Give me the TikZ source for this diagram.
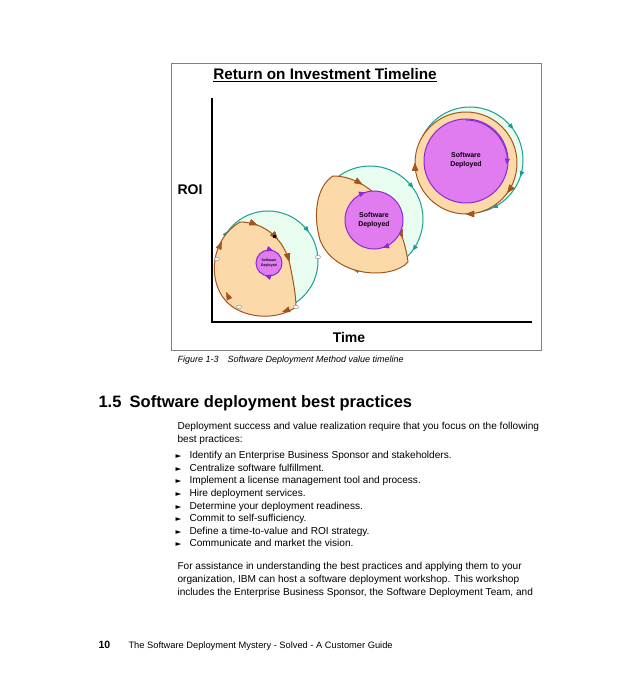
\documentclass[tikz,border=0pt]{standalone}
\usepackage{fontspec}
\setmainfont{Liberation Sans}
\newfontfamily\djv{DejaVu Sans}
\usetikzlibrary{decorations.markings,arrows.meta}
\definecolor{teal2}{HTML}{1A9E96}
\definecolor{brn}{HTML}{A3561C}
\definecolor{orf}{HTML}{FCD9A8}
\definecolor{grf}{HTML}{E8FCEF}
\definecolor{puf}{HTML}{E07CF0}
\definecolor{pud}{HTML}{8A2BD2}
\tikzset{
 grc/.style={draw=teal2,fill=grf,line width=1pt},
 orc/.style={draw=brn,fill=orf,line width=1pt},
 puc/.style={draw=pud,fill=puf,line width=1pt},
 tarr/.style={postaction={decorate},decoration={markings,mark=at position #1 with {\arrow[teal2]{Triangle[length=5pt,width=4pt]}}}},
 barr/.style={postaction={decorate},decoration={markings,mark=at position #1 with {\arrow[brn]{Triangle[length=8pt,width=6pt]}}}},
 parr/.style={postaction={decorate},decoration={markings,mark=at position #1 with {\arrow[pud]{Triangle[length=6pt,width=5pt]}}}},
 body/.style={anchor=base west,font=\fontsize{10.1pt}{12pt}\selectfont},
 bul/.style={anchor=base west,font=\djv\fontsize{7.5pt}{8pt}\selectfont},
 sw/.style={align=center,inner sep=0pt}
}
\begin{document}
\begin{tikzpicture}[x=1pt,y=-1pt]
\useasboundingbox[fill=white] (0,0) rectangle (638,676);
\draw[gray,line width=0.6pt] (171,63) rectangle (541,350);
\node[font=\bfseries\fontsize{15.3pt}{18pt}\selectfont] (title) at (325,75) {\underline{Return on Investment Timeline}};
\coordinate (ytop) at (212,98);
\coordinate (org) at (212,322);
\coordinate (xend) at (532,322);
\draw[line width=1.6pt] (ytop) -- (org) -- (xend);
\node[font=\bfseries\fontsize{14pt}{16pt}\selectfont] (roi) at (190,190) {ROI};
\node[font=\bfseries\fontsize{14pt}{16pt}\selectfont] (time) at (349,337) {Time};
% circle 1
\path[grc,tarr/.list={0.25,0.6,0.9}] (268,261) circle[radius=50];
\path[orc] (240,222) .. controls (265,222) and (285,240) .. (290,265) .. controls (293,280) and (296,295) .. (296,307) .. controls (275,322) and (240,318) .. (225,300) .. controls (208,280) and (210,240) .. (240,222) -- cycle;
\path[brn,barr/.list={0.25,0.6,0.95}] (240,222) .. controls (265,222) and (285,240) .. (290,265);
\path[brn,barr=0.5] (296,307) -- (268,317);
\path[brn,barr=0.5] (232,304) -- (220,280);
\path[brn,barr=0.5] (218,250) -- (226,233);
\fill (273,235) rectangle +(3,3);
\foreach \p in {(217,259),(239,307),(296,307),(318,257)}{\draw[gray,fill=white,line width=0.4pt] \p ellipse[x radius=2.5,y radius=1.8];}
\path[puc,parr/.list={0.3,0.8}] (269,263) circle[radius=13];
\node[sw,font=\bfseries\fontsize{3.5pt}{4.2pt}\selectfont] (s1) at (269,263) {Software\\Deployed};
% circle 2
\path[grc,tarr/.list={0.1,0.3,0.9}] (370,219) circle[radius=53];
\path[orc] (333,176) .. controls (370,176) and (402,215) .. (408,262) .. controls (392,280) and (335,278) .. (320,240) .. controls (312,212) and (318,185) .. (333,176) -- cycle;
\path[brn,barr/.list={0.25,0.8}] (333,176) .. controls (370,176) and (402,215) .. (408,262);
\path[puc,parr/.list={0.2,0.7}] (374,220) circle[radius=29];
\node[sw,font=\bfseries\fontsize{7pt}{9pt}\selectfont] (s2) at (374,220) {Software\\Deployed};
% circle 3
\path[grc,tarr/.list={0.05,0.18,0.9}] (470,160) circle[radius=53];
\path[orc,barr/.list={0.1,0.25,0.5}] (466,163) circle[radius=51];
\path[puc] (466,161) circle[radius=42];
\draw[pud,line width=1pt,-{Triangle[length=6pt,width=5pt]}] (466,120) arc[start angle=-90,end angle=5,radius=41];
\node[sw,font=\bfseries\fontsize{7pt}{9pt}\selectfont] (s3) at (466,160) {Software\\Deployed};
% text
\node[anchor=base west,font=\itshape\fontsize{9pt}{10pt}\selectfont] (cap) at (174,362) {Figure 1-3\quad Software Deployment Method value timeline};
\node[anchor=base west,font=\bfseries\fontsize{16.5pt}{18pt}\selectfont] (h) at (95,407) {1.5\enspace Software deployment best practices};
\node[body] (p1) at (174,429) {Deployment success and value realization require that you focus on the following};
\node[body] (p2) at (174,442) {best practices:};
\foreach \t [count=\i] in {Identify an Enterprise Business Sponsor and stakeholders.,Centralize software fulfillment.,Implement a license management tool and process.,Hire deployment services.,Determine your deployment readiness.,Commit to self-sufficiency.,Define a time-to-value and ROI strategy.,Communicate and market the vision.}{
  \node[bul] (b\i) at (172,{446+12.6*\i}) {►};
  \node[body] (l\i) at (186,{446+12.6*\i}) {\t};
}
\node[body] (q1) at (174,569) {For assistance in understanding the best practices and applying them to your};
\node[body] (q2) at (174,582) {organization, IBM can host a software deployment workshop. This workshop};
\node[body] (q3) at (174,595) {includes the Enterprise Business Sponsor, the Software Deployment Team, and};
\node[anchor=base west,font=\bfseries\fontsize{10.5pt}{12pt}\selectfont] (pg) at (95,648) {10};
\node[anchor=base west,font=\fontsize{9.3pt}{10pt}\selectfont] (ft) at (125,648) {The Software Deployment Mystery - Solved - A Customer Guide};
\end{tikzpicture}
\end{document}
